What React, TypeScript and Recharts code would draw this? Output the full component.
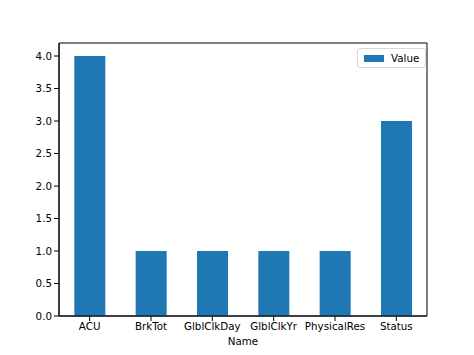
import { BarChart, Bar, XAxis, YAxis, Label, ReferenceArea } from 'recharts';

const names = ['ACU', 'BrkTot', 'GlblClkDay', 'GlblClkYr', 'PhysicalRes', 'Status'];
const values = [4, 1, 1, 1, 1, 3];
const yTicks = [0, 0.5, 1, 1.5, 2, 2.5, 3, 3.5, 4];

const data = names.map((name, i) => ({ name, value: values[i] }));

const font = 'DejaVu Sans, sans-serif';
const tickStyle = { fontSize: 10.3, fill: '#000', fontFamily: font };

function ValueLegend() {
  return (
    <div
      style={{
        position: 'absolute',
        left: 357,
        top: 48,
        border: '1px solid #d8d8d8',
        borderRadius: 3,
        background: '#fff',
        padding: '3px 6px',
        display: 'flex',
        alignItems: 'center',
        gap: 7,
        fontFamily: font,
        fontSize: 10.3,
        color: '#000',
      }}
    >
      <span style={{ width: 20, height: 7, background: '#1f77b4', display: 'inline-block' }} />
      Value
    </div>
  );
}

export default function App() {
  return (
    <div style={{ position: 'absolute', left: 0, top: 0, width: 474, height: 355, background: '#fff' }}>
      <BarChart
        width={474}
        height={355}
        data={data}
        margin={{ top: 43, right: 47, bottom: 0, left: 0 }}
        barCategoryGap="25%"
      >
        <XAxis
          dataKey="name"
          height={39}
          tick={tickStyle}
          tickSize={5}
          tickLine={{ stroke: '#000' }}
          axisLine={{ stroke: '#000' }}
          interval={0}
        >
          <Label value="Name" position="insideBottom" offset={10} style={{ ...tickStyle }} />
        </XAxis>
        <YAxis
          width={59}
          domain={[0, 4.2]}
          ticks={yTicks}
          tickFormatter={(v: number) => v.toFixed(1)}
          tick={tickStyle}
          tickSize={5}
          tickLine={{ stroke: '#000' }}
          axisLine={{ stroke: '#000' }}
          allowDataOverflow
        />
        <Bar dataKey="value" fill="#1f77b4" isAnimationActive={false} />
        <ReferenceArea y1={0} y2={4.2} fill="none" stroke="#000" strokeWidth={1} ifOverflow="visible" />
      </BarChart>
      <ValueLegend />
    </div>
  );
}
